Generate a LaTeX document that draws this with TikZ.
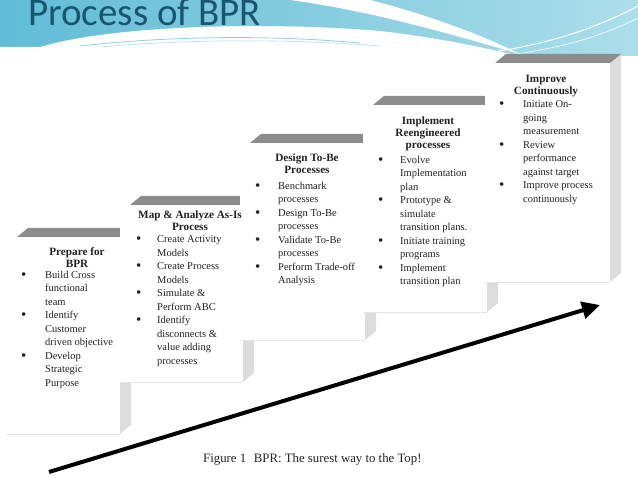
\documentclass[tikz,border=0pt]{standalone}
\usepackage{fontspec}
\setmainfont{Liberation Serif}
\newfontfamily\headfont{Carlito}
\usetikzlibrary{arrows.meta}

\definecolor{bandleft}{RGB}{96,188,214}
\definecolor{bandright}{RGB}{172,222,234}
\definecolor{titleblue}{RGB}{24,86,112}
\definecolor{topgray}{RGB}{140,140,140}
\definecolor{sidegray}{RGB}{220,220,220}
\definecolor{inkgray}{RGB}{34,34,34}

\newcommand\bprdot{\raisebox{-0.6pt}{\fontsize{15}{15}\selectfont\textbullet}}
\newcommand\bprlist[2]{\begin{tabular}[t]{@{}p{#1}@{}l@{}}#2\end{tabular}}
\newcommand\bprhead[1]{\begin{tabular}[t]{@{}c@{}}#1\end{tabular}}

\tikzset{
  topface/.style={fill=topgray},
  sideface/.style={fill=sidegray},
  frontface/.style={fill=white},
  steptitle/.style={anchor=base,inner sep=0pt,text=inkgray,font=\fontsize{11.2}{11.6}\selectfont\bfseries},
  steplist/.style={anchor=base west,inner sep=0pt,text=inkgray,font=\fontsize{10.5}{13.5}\selectfont},
}

\begin{document}
\begin{tikzpicture}[x=1pt,y=-1pt]
    \useasboundingbox (0,0) rectangle (638,478);
    \clip (0,0) rectangle (638,478);
    % header band
    \shade[left color=bandleft,right color=bandright] (0,0) rectangle (638,56);
    \fill[white] (0,47) -- (40,47) .. controls (110,26) and (260,21) .. (380,31)
        .. controls (440,38) and (480,47) .. (520,56) -- (0,56) -- cycle;
    \draw[bandleft!70,line width=0.8pt] (80,46) .. controls (160,37) and (260,34) .. (360,43);
    \draw[bandleft!50,line width=0.6pt] (100,47) .. controls (180,40) and (280,38) .. (380,46);
    \fill[white] (290,0) -- (370,0) .. controls (425,14) and (480,34) .. (520,54)
        .. controls (470,40) and (380,12) .. (290,0) -- cycle;
    \draw[white,line width=1pt] (470,55) .. controls (550,46) and (600,26) .. (638,6);
    \draw[white,line width=0.6pt] (500,56) .. controls (570,48) and (610,32) .. (638,18);
    \node[anchor=base west,inner sep=0pt,text=titleblue,font=\headfont\fontsize{39}{39}\selectfont] (head) at (28,26) {Process of BPR};
    % steps
    \foreach \l/\r/\t/\b in {17/120/237/434, 130/243/205/382, 250/365/143/340, 373/487/105/312, 495/610/63/282}{
      \fill[frontface] (\l-10,\t) rectangle (\r,\b);
      \draw[gray!20] (\l-10,\b) -- (\r,\b);
      \fill[sideface] (\r,\t) -- (\r+11,\t-9) -- (\r+11,\b-9) -- (\r,\b) -- cycle;
      \fill[topface] (\l,\t) -- (\r,\t) -- (\r+11,\t-9) -- (\l+11,\t-9) -- cycle;
    }
    \node[steptitle] (prep) at (77,256) {\bprhead{Prepare for\\BPR}};
    \node[steplist] (prepitems) at (21,278.5) {\bprlist{24pt}{%
      \bprdot & Build Cross\\ & functional\\ & team\\
      \bprdot & Identify\\ & Customer\\ & driven objective\\
      \bprdot & Develop\\ & Strategic\\ & Purpose}};
    \node[steptitle] (asis) at (190,219) {\bprhead{Map \& Analyze As-Is\\Process}};
    \node[steplist] (asisitems) at (136,243) {\bprlist{21pt}{%
      \bprdot & Create Activity\\ & Models\\
      \bprdot & Create Process\\ & Models\\
      \bprdot & Simulate \&\\ & Perform ABC\\
      \bprdot & Identify\\ & disconnects \&\\ & value adding\\ & processes}};
    \node[steptitle] (tobe) at (307,162) {\bprhead{Design To-Be\\Processes}};
    \node[steplist] (tobeitems) at (255,189.5) {\bprlist{23pt}{%
      \bprdot & Benchmark\\ & processes\\
      \bprdot & Design To-Be\\ & processes\\
      \bprdot & Validate To-Be\\ & processes\\
      \bprdot & Perform Trade-off\\ & Analysis}};
    \node[steptitle] (impl) at (428,125) {\bprhead{Implement\\Reengineered\\processes}};
    \node[steplist] (implitems) at (378,163.5) {\bprlist{22pt}{%
      \bprdot & Evolve\\ & Implementation\\ & plan\\
      \bprdot & Prototype \&\\ & simulate\\ & transition plans.\\
      \bprdot & Initiate training\\ & programs\\
      \bprdot & Implement\\ & transition plan}};
    \node[steptitle] (impr) at (546,83) {\bprhead{Improve\\Continuously}};
    \node[steplist] (impritems) at (499,108) {\bprlist{24pt}{%
      \bprdot & Initiate On-\\ & going\\ & measurement\\
      \bprdot & Review\\ & performance\\ & against target\\
      \bprdot & Improve process\\ & continuously}};
    % the way up
    \coordinate (rise) at (49,472);
    \coordinate (peak) at (600,305);
    \draw[line width=4pt,-{Triangle[length=18pt,width=17pt]}] (rise) -- (peak);
    \node[anchor=base west,inner sep=0pt,text=inkgray,font=\fontsize{12.8}{14}\selectfont] (caption) at (203,463)
      {Figure 1\hspace{0.6em}BPR: The surest way to the Top!};
\end{tikzpicture}
\end{document}
